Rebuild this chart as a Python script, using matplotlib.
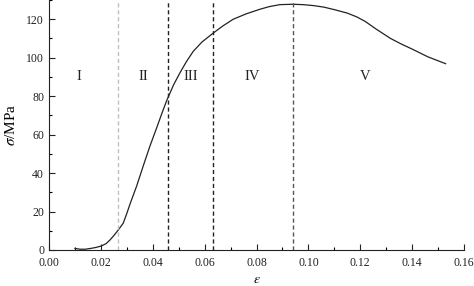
import matplotlib.pyplot as plt
import numpy as np

# strain / stress curve
strain = [0.010, 0.012, 0.014, 0.016, 0.018, 0.020, 0.022, 0.0235, 0.025, 0.0267,
          0.0286, 0.030, 0.0312, 0.0338, 0.0363, 0.0389, 0.0415, 0.0435, 0.0454,
          0.048, 0.0505, 0.053, 0.0556, 0.059, 0.0633, 0.067, 0.071, 0.076,
          0.0813, 0.085, 0.089, 0.094, 0.098, 0.102, 0.106, 0.110, 0.115, 0.1187,
          0.122, 0.126, 0.1317, 0.136, 0.140, 0.146, 0.1529]
stress = [0.8, 0.4, 0.4, 0.8, 1.3, 2.0, 3.3, 5.2, 7.5, 10.4,
          13.9, 19.0, 23.8, 33.3, 43.6, 54.0, 63.5, 71.0, 77.8,
          85.8, 92.2, 98.0, 103.3, 108.2, 112.8, 116.5, 120.0, 122.8,
          125.2, 126.6, 127.6, 127.8, 127.6, 127.1, 126.3, 125.0, 123.2, 121.2,
          118.8, 115.0, 110.0, 107.0, 104.5, 100.5, 96.9]

# stage boundaries and labels
bounds = [0.0266, 0.046, 0.0633, 0.0942]
bound_colors = ['#c0c0c0', '#222222', '#222222', '#555555']
stage_names = ['I', 'II', 'III', 'IV', 'V']
stage_x = [0.0115, 0.0365, 0.0545, 0.0785, 0.122]
stage_y = 90

plt.rcParams['font.family'] = ['Liberation Serif', 'DejaVu Serif']
plt.rcParams['mathtext.fontset'] = 'stix'

fig = plt.figure(figsize=(4.74, 2.86), dpi=100)
ax = fig.add_axes([0.1034, 0.1259, 0.8755, 0.874])

ax.plot(strain, stress, color='#222222', lw=0.9)
for b, c in zip(bounds, bound_colors):
    ax.axvline(b, color=c, lw=1.0, ls=(0, (3, 2)))
for name, x in zip(stage_names, stage_x):
    ax.text(x, stage_y, name, ha='center', va='center', fontsize=10.5, color='#222222')

ax.set_xlim(0, 0.16)
ax.set_ylim(0, 130)
ax.set_xticks(np.arange(0, 0.161, 0.02))
ax.set_xticks(np.arange(0.01, 0.16, 0.02), minor=True)
ax.set_yticks(np.arange(0, 121, 20))
ax.set_yticks(np.arange(10, 131, 20), minor=True)
ax.xaxis.set_major_formatter(plt.FuncFormatter(lambda v, p: f'{v:.2f}'))
ax.tick_params(direction='in', length=4, width=0.8, labelsize=8.5, colors='#222222')
ax.tick_params(axis='x', pad=5)
ax.tick_params(which='minor', direction='in', length=2.5, width=0.8)
for s in ['top', 'right']:
    ax.spines[s].set_visible(False)
for s in ['left', 'bottom']:
    ax.spines[s].set_linewidth(0.8)
    ax.spines[s].set_color('#222222')

ax.set_xlabel(r'$\varepsilon$', fontsize=10, labelpad=3)
ax.set_ylabel(r'$\sigma$/MPa', fontsize=11, labelpad=6)

fig.savefig('out.png', dpi=100)
